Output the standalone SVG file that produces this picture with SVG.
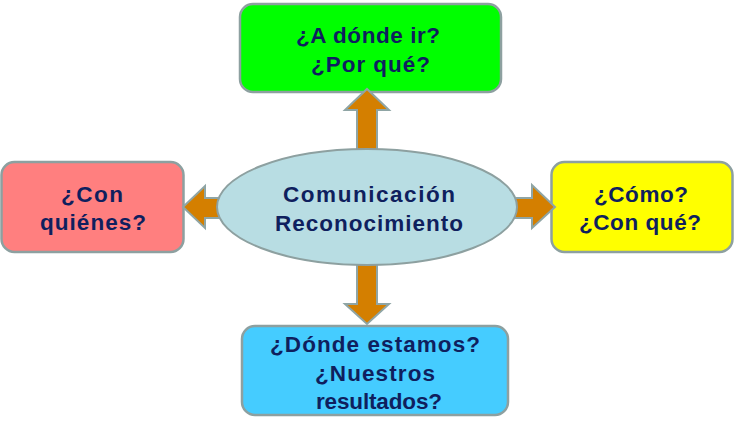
<svg xmlns="http://www.w3.org/2000/svg" width="734" height="424" viewBox="0 0 734 424">
<style>
.box{stroke:#8DA0A0;stroke-width:2.5}
.arr{fill:#D47F00;stroke:#8FA5A5;stroke-width:2;stroke-linejoin:miter}
.t{font-family:"Liberation Sans",Arial,sans-serif;font-weight:bold;font-size:22.5px;fill:#0F1F5E;text-anchor:middle}
</style>
<rect width="734" height="424" fill="#FFFFFF"/>
<g id="node-top">
<rect class="box" x="240" y="4" width="261" height="88" rx="13" fill="#00FF00"/>
<text class="t" x="368" y="43" textLength="144" lengthAdjust="spacing">¿A dónde ir?</text>
<text class="t" x="370.5" y="72" textLength="119" lengthAdjust="spacing">¿Por qué?</text>
</g>
<g id="node-left">
<rect class="box" x="1.5" y="162" width="182" height="90" rx="13" fill="#FF7F7F"/>
<text class="t" x="92" y="202" textLength="62" lengthAdjust="spacing">¿Con</text>
<text class="t" x="93" y="230" textLength="106" lengthAdjust="spacing">quiénes?</text>
</g>
<g id="node-right">
<rect class="box" x="551.5" y="162" width="181" height="90" rx="13" fill="#FFFF00"/>
<text class="t" x="641" y="202" textLength="94" lengthAdjust="spacing">¿Cómo?</text>
<text class="t" x="640" y="230" textLength="122" lengthAdjust="spacing">¿Con qué?</text>
</g>
<g id="node-bottom">
<rect class="box" x="242" y="326" width="266" height="89" rx="13" fill="#45CCFF"/>
<text class="t" x="375" y="352" textLength="210" lengthAdjust="spacing">¿Dónde estamos?</text>
<text class="t" x="375" y="381" textLength="120" lengthAdjust="spacing">¿Nuestros</text>
<text class="t" x="379" y="409" textLength="126" lengthAdjust="spacing">resultados?</text>
</g>
<g id="connectors">
<polygon class="arr" points="357,155 357,110 345,110 367,89 389,110 377,110 377,155"/>
<polygon class="arr" points="357,260 357,304 345,304 367,324 389,304 377,304 377,260"/>
<polygon class="arr" points="225,198 205,198 205,186 183,207 205,228 205,218 225,218"/>
<polygon class="arr" points="510,198 532,198 532,185 555,207 532,228 532,218 510,218"/>
</g>
<g id="node-center">
<ellipse cx="367" cy="207" rx="150" ry="58" fill="#B8DDE3" stroke="#8DA0A0" stroke-width="2"/>
<text class="t" x="369" y="202" textLength="172" lengthAdjust="spacing">Comunicación</text>
<text class="t" x="369" y="231" textLength="188" lengthAdjust="spacing">Reconocimiento</text>
</g>
</svg>
